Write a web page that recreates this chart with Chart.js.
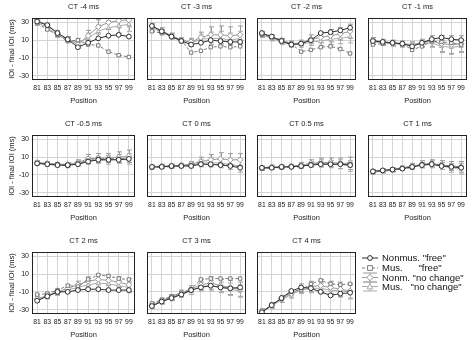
<!DOCTYPE html>
<html><head><meta charset="utf-8">
<script src="https://cdn.jsdelivr.net/npm/chart.js@4.4.0/dist/chart.umd.min.js"></script>
<style>
html,body{margin:0;padding:0;background:#fff;}
#wrap{position:relative;width:474px;height:340px;overflow:hidden;background:#fff;}
#wrap canvas{position:absolute;}
</style></head><body><div id="wrap"></div>
<script>
const positions = [81,83,85,87,89,91,93,95,97,99];
const xTicks = [81,83,85,87,89,91,93,95,97,99];
const yTicks = [-30,-20,-10,0,10,20,30];
const panelTitles = ['CT -4 ms','CT -3 ms','CT -2 ms','CT -1 ms','CT -0.5 ms','CT 0 ms','CT 0.5 ms','CT 1 ms','CT 2 ms','CT 3 ms','CT 4 ms'];
const seriesNames = ['Nonmus. "free"','Mus.      "free"','Nonm. "no change"','Mus.   "no change"'];

const nonmusFree = [
  [31,27,18,11,2,7,12,15,16,14],
  [26,20,14,9,5,7,10,9,8,8],
  [18,14,9,5,6,10,18,19,21,24],
  [9,8,7,6,3,7,11,13,11,10],
  [3,2,1,1,2,5,7,7,7,8],
  [-1,-1,0,0,0,2,2,1,0,-2],
  [-2,-2,-1,-1,0,1,2,2,2,1],
  [-6,-5,-4,-3,-1,1,2,0,-1,-2],
  [-20,-15,-10,-10,-8,-7,-7,-8,-8,-8],
  [-26,-21,-17,-13,-8,-5,-3,-5,-6,-5],
  [-33,-25,-17,-9,-5,-6,-10,-14,-12,-11]
];
const musFree = [
  [29,22,16,9,10,5,4,-3,-7,-9],
  [20,18,15,10,-4,-2,2,3,2,3],
  [16,14,10,6,-3,-1,2,3,0,-5],
  [5,6,7,6,-1,3,9,8,7,5],
  [3,2,2,0,3,6,8,8,8,8],
  [-2,-1,-1,0,1,3,1,2,1,-1],
  [-3,-2,-2,-1,-1,2,3,2,3,2],
  [-7,-5,-4,-3,-2,2,3,1,0,-1],
  [-13,-12,-8,-3,-4,4,9,8,5,4],
  [-23,-19,-15,-11,-7,4,5,5,5,5],
  [-33,-24,-18,-10,-8,-1,3,-1,-2,-1]
];
const nonmNoChange = [
  [33,26,18,11,5,15,25,30,32,33],
  [26,21,15,10,8,13,16,16,15,16],
  [17,13,9,6,7,11,13,15,17,20],
  [10,8,7,6,5,7,9,6,5,6],
  [4,3,2,2,4,8,9,9,10,11],
  [-1,0,0,1,2,5,7,8,7,7],
  [-2,-1,-1,0,1,3,4,4,3,3],
  [-6,-5,-4,-2,0,2,3,1,0,-1],
  [-18,-14,-10,-6,-2,2,4,3,1,-2],
  [-25,-20,-16,-12,-7,-2,0,-3,-5,-7],
  [-32,-25,-18,-12,-6,-4,-3,-5,-7,-9]
];
const musNoChange = [
  [30,24,16,10,8,12,20,24,26,28],
  [24,19,14,10,7,11,12,12,10,12],
  [16,12,8,5,5,8,9,11,12,14],
  [8,7,6,5,4,6,7,3,2,3],
  [3,2,1,1,3,6,7,7,8,8],
  [-1,-1,0,0,1,3,4,3,2,0],
  [-3,-2,-1,-1,0,2,3,2,2,0],
  [-7,-6,-5,-3,-1,1,2,0,-2,-3],
  [-19,-15,-11,-8,-5,-2,0,-1,-3,-5],
  [-26,-21,-17,-13,-9,-4,-3,-5,-7,-9],
  [-33,-26,-19,-13,-8,-6,-6,-8,-9,-10]
];
const nonmErr = [
  [3,3,3,3,4,6,8,8,8,8],
  [3,3,3,3,4,6,9,10,10,10],
  [3,3,3,3,3,5,6,7,7,8],
  [3,3,3,3,3,4,6,9,10,9],
  [2,2,2,2,3,5,5,5,6,7],
  [2,2,2,2,3,5,6,7,7,7],
  [2,2,2,2,3,4,5,5,6,7],
  [2,2,2,2,3,4,4,5,5,6],
  [3,3,3,4,4,5,6,6,6,7],
  [3,3,3,4,4,6,7,7,8,8],
  [3,3,4,4,5,6,7,7,8,8]
];
const musErr = [
  [3,3,3,3,4,6,7,8,8,8],
  [3,3,3,3,4,5,7,8,8,8],
  [3,3,3,3,3,4,5,6,6,7],
  [3,3,3,3,3,4,5,7,8,7],
  [2,2,2,2,3,4,4,5,5,6],
  [2,2,2,2,3,4,5,5,6,7],
  [2,2,2,2,2,3,4,4,5,6],
  [2,2,2,2,3,3,4,4,5,6],
  [3,3,3,3,4,4,5,5,6,6],
  [3,3,3,3,4,5,6,6,7,7],
  [3,3,3,4,4,5,6,7,7,8]
];

const FONT = '"Liberation Sans", Arial, sans-serif';
const colors = { nf:'#2e2e2e', mf:'#7a7a7a', nn:'#999999', mn:'#ababab' };

const frameAndErr = {
  id: 'frameAndErr',
  beforeDatasetsDraw(chart) {
    const ctx = chart.ctx, ys = chart.scales.y, a = chart.chartArea;
    ctx.save();
    ctx.beginPath(); ctx.rect(a.left, a.top, a.right - a.left, a.bottom - a.top); ctx.clip();
    chart.data.datasets.forEach((ds, di) => {
      if (!ds.errors) return;
      const meta = chart.getDatasetMeta(di);
      ctx.strokeStyle = ds.borderColor; ctx.lineWidth = 1;
      meta.data.forEach((pt, i) => {
        const v = ds.data[i].y, e = ds.errors[i];
        const x = Math.round(pt.x) + 0.5;
        const y1 = ys.getPixelForValue(v + e), y2 = ys.getPixelForValue(v - e);
        ctx.beginPath();
        ctx.moveTo(x, y1); ctx.lineTo(x, y2);
        ctx.moveTo(x - 2.5, y1); ctx.lineTo(x + 2.5, y1);
        ctx.moveTo(x - 2.5, y2); ctx.lineTo(x + 2.5, y2);
        ctx.stroke();
      });
    });
    ctx.restore();
  },
  afterDraw(chart) {
    const ctx = chart.ctx, a = chart.chartArea;
    ctx.save();
    ctx.strokeStyle = '#222'; ctx.lineWidth = 1;
    ctx.strokeRect(Math.round(a.left) + 0.5, Math.round(a.top) + 0.5, Math.round(a.right - a.left) - 1, Math.round(a.bottom - a.top) - 1);
    ctx.restore();
  }
};

function drawMarker(ctx, style, x, y, col) {
  ctx.save();
  ctx.strokeStyle = col; ctx.fillStyle = '#fff'; ctx.lineWidth = 1;
  ctx.beginPath();
  const r = 2.4;
  if (style === 'circle') ctx.arc(x, y, r, 0, Math.PI * 2);
  else if (style === 'rect') ctx.rect(x - r, y - r, 2 * r, 2 * r);
  else if (style === 'rectRot') { ctx.moveTo(x, y - r - 0.8); ctx.lineTo(x + r + 0.8, y); ctx.lineTo(x, y + r + 0.8); ctx.lineTo(x - r - 0.8, y); ctx.closePath(); }
  else { ctx.moveTo(x, y - r - 0.5); ctx.lineTo(x + r + 0.5, y + r); ctx.lineTo(x - r - 0.5, y + r); ctx.closePath(); }
  ctx.fill(); ctx.stroke();
  ctx.restore();
}

const legendPlugin = {
  id: 'sideLegend',
  afterDraw(chart) {
    if (!chart.options.plugins.sideLegend || !chart.options.plugins.sideLegend.show) return;
    const ctx = chart.ctx, a = chart.chartArea;
    const x0 = a.right + 6, x1 = a.right + 22, xm = (x0 + x1) / 2, tx = a.right + 26;
    const rows = [a.top + 6, a.top + 16, a.top + 25.5, a.top + 34.5];
    const styles = ['circle', 'rect', 'rectRot', 'triangle'];
    const cols = [colors.nf, colors.mf, colors.nn, colors.mn];
    ctx.save();
    rows.forEach((y, i) => {
      ctx.strokeStyle = cols[i]; ctx.lineWidth = 1;
      ctx.setLineDash(i === 1 ? [3, 2] : []);
      ctx.beginPath(); ctx.moveTo(x0, y); ctx.lineTo(x1, y); ctx.stroke();
      ctx.setLineDash([]);
      if (i >= 2) {
        ctx.beginPath();
        ctx.moveTo(xm, y - 4.5); ctx.lineTo(xm, y + 4.5);
        ctx.moveTo(x0 + 1, y - 4.5); ctx.lineTo(x1 - 1, y - 4.5);
        ctx.moveTo(x0 + 1, y + 4.5); ctx.lineTo(x1 - 1, y + 4.5);
        ctx.stroke();
      }
      drawMarker(ctx, styles[i], xm, y, cols[i]);
      ctx.fillStyle = '#111';
      ctx.font = '9.5px ' + FONT;
      ctx.textBaseline = 'middle'; ctx.textAlign = 'left';
      ctx.fillText(seriesNames[i], tx, y + 0.5);
    });
    ctx.restore();
  }
};

const boxX = [32, 143, 253, 364];
const boxY = [18, 135, 252];
const BOX_W = 103;
const wrap = document.getElementById('wrap');

function pts(vals) { return positions.map((p, i) => ({ x: p, y: vals[i] })); }

panelTitles.forEach((title, p) => {
  const row = Math.floor(p / 4), col = p % 4;
  const yW = col === 0 ? 32 : 1;
  const isLast = p === panelTitles.length - 1;
  const left = boxX[col] - yW;
  const width = isLast ? 474 - left : yW + BOX_W + 5;
  const padR = width - yW - BOX_W;
  const cv = document.createElement('canvas');
  cv.width = width; cv.height = 108;
  cv.style.left = left + 'px'; cv.style.top = (boxY[row] - 18) + 'px';
  cv.style.width = width + 'px'; cv.style.height = '108px';
  wrap.appendChild(cv);

  const mk = (label, vals, col_, style, dash, errs) => ({
    label, data: pts(vals), borderColor: col_, borderWidth: 1, borderDash: dash,
    pointStyle: style, pointRadius: style === 'rectRot' ? 2.9 : 2.4, pointBackgroundColor: '#fff',
    pointBorderColor: col_, pointBorderWidth: 1, tension: 0, errors: errs, fill: false
  });

  new Chart(cv, {
    type: 'line',
    data: {
      datasets: [
        mk(seriesNames[0], nonmusFree[p], colors.nf, 'circle', [], null),
        mk(seriesNames[1], musFree[p], colors.mf, 'rect', [3, 2], null),
        mk(seriesNames[2], nonmNoChange[p], colors.nn, 'rectRot', [], nonmErr[p]),
        mk(seriesNames[3], musNoChange[p], colors.mn, 'triangle', [], musErr[p])
      ]
    },
    options: {
      responsive: false, animation: false, events: [],
      devicePixelRatio: 1,
      layout: { padding: { left: 0, right: padR, top: 0, bottom: 0 } },
      plugins: {
        legend: { display: false }, tooltip: { enabled: false },
        title: { display: true, text: title, fullSize: false, color: '#222',
          font: { family: FONT, size: 7.5, weight: 'normal' }, padding: { top: 2.5, bottom: 6.5 } },
        sideLegend: { show: isLast }
      },
      scales: {
        x: {
          type: 'linear', min: 80, max: 100.2,
          afterBuildTicks: s => { s.ticks = xTicks.map(v => ({ value: v })); },
          afterFit: s => { s.height = 28; },
          grid: { color: '#d4d4d4', lineWidth: 1, drawTicks: false },
          border: { display: false },
          ticks: { autoSkip: false, maxRotation: 0, minRotation: 0, padding: 4, color: '#222',
            font: { family: FONT, size: 6.8 }, callback: v => String(v) },
          title: { display: true, text: 'Position', color: '#222', font: { family: FONT, size: 7.5 }, padding: { top: 0, bottom: 3 } }
        },
        y: {
          min: -35, max: 35,
          afterBuildTicks: s => { s.ticks = yTicks.map(v => ({ value: v })); },
          afterFit: s => { s.width = yW; },
          grid: { color: '#d4d4d4', lineWidth: 1, drawTicks: false },
          border: { display: false },
          ticks: { padding: 3, color: col === 0 ? '#222' : 'rgba(0,0,0,0)', font: { family: FONT, size: 7 } },
          title: { display: col === 0, text: 'IOI - final IOI (ms)', color: '#222', font: { family: FONT, size: 7.5 }, padding: { top: 7, bottom: 0 } }
        }
      }
    },
    plugins: [frameAndErr, legendPlugin]
  });
});
</script></body></html>
